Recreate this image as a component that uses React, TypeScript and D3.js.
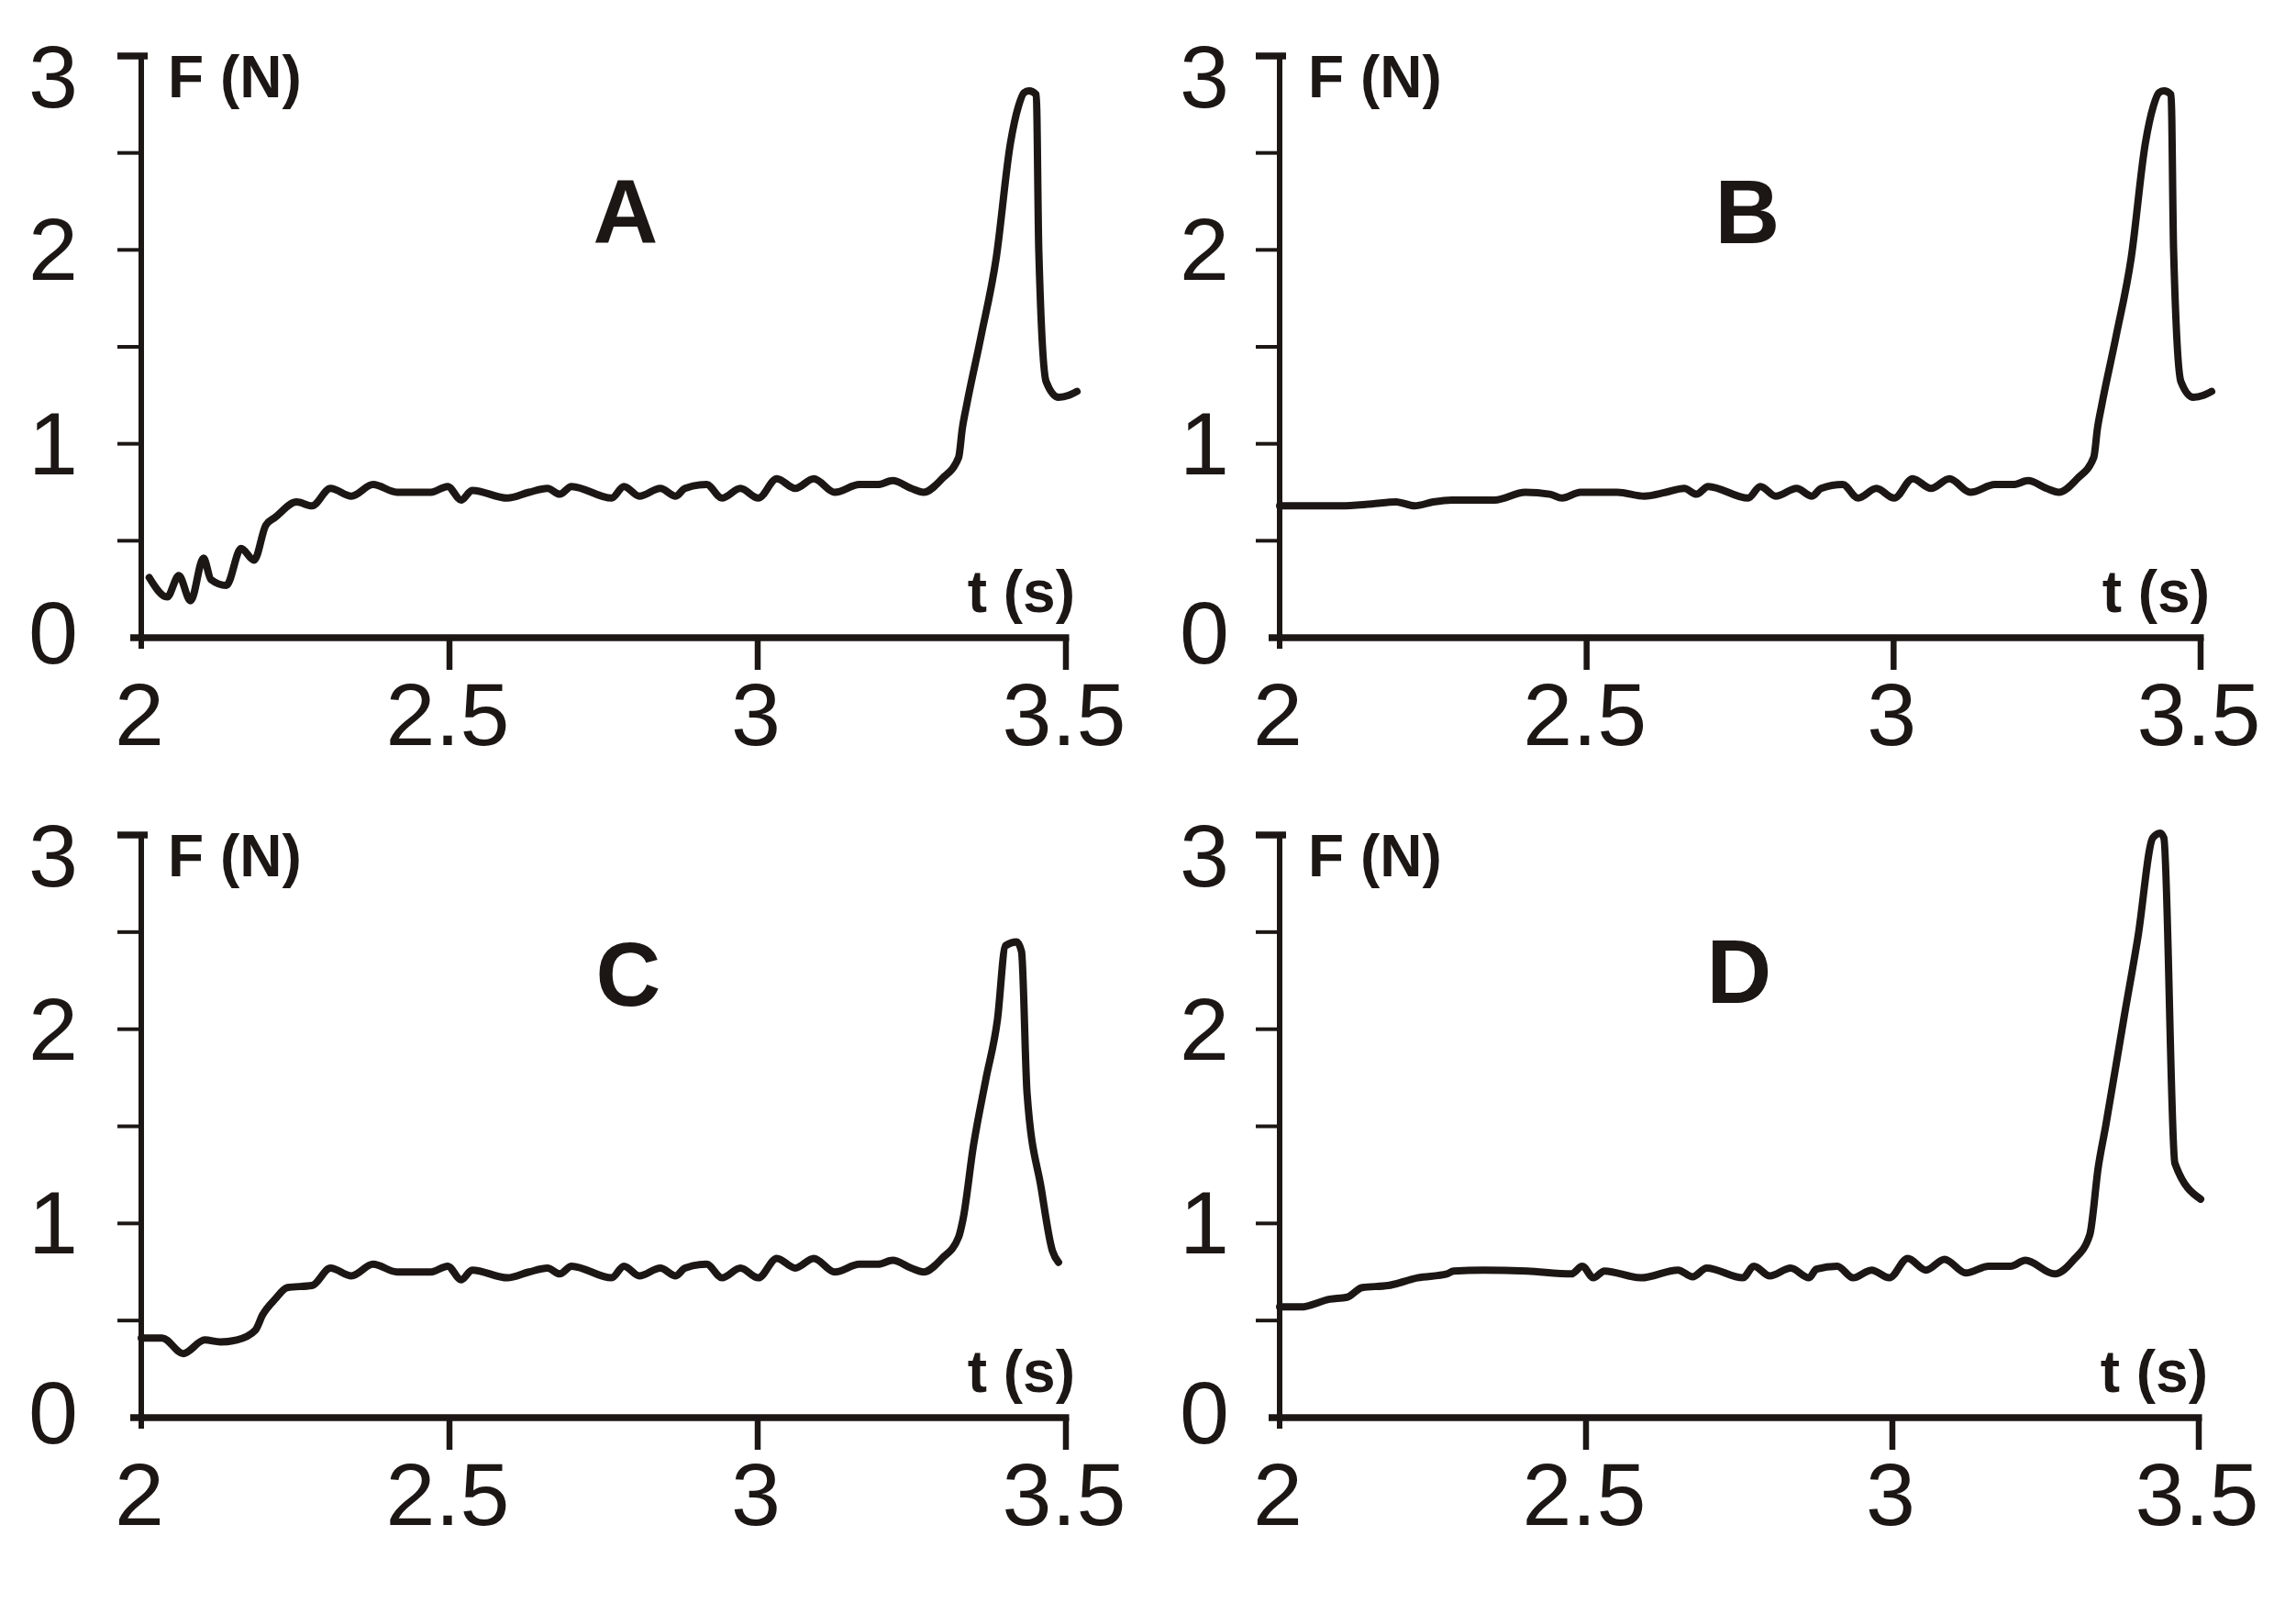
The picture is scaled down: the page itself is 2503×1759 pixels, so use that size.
import * as d3 from "d3";

// force traces, t in seconds, F in newtons
const startA: [number, number][] = [
  [2.013, 0.31], [2.042, 0.21], [2.061, 0.32], [2.08, 0.19], [2.101, 0.41],
  [2.113, 0.3], [2.138, 0.27], [2.162, 0.46], [2.183, 0.4], [2.202, 0.58],
  [2.217, 0.62], [2.252, 0.7], [2.277, 0.68],
];

const startB: [number, number][] = [
  [2.0, 0.68], [2.05, 0.68], [2.1, 0.68], [2.15, 0.69], [2.19, 0.7],
  [2.22, 0.68], [2.25, 0.7], [2.28, 0.71], [2.35, 0.71], [2.4, 0.75],
  [2.44, 0.74], [2.46, 0.72], [2.49, 0.75], [2.55, 0.75], [2.594, 0.73],
];

const startC: [number, number][] = [
  [2.0, 0.41], [2.034, 0.41], [2.068, 0.33], [2.103, 0.4], [2.128, 0.39],
  [2.155, 0.4], [2.185, 0.45], [2.197, 0.53], [2.217, 0.61], [2.237, 0.67],
  [2.277, 0.68],
];

const earlyPlateau: [number, number][] = [
  [2.307, 0.77], [2.341, 0.73], [2.376, 0.79], [2.415, 0.75], [2.47, 0.75],
  [2.497, 0.78], [2.519, 0.71], [2.537, 0.76], [2.594, 0.72],
];

const plateau: [number, number][] = [
  [2.629, 0.75], [2.659, 0.77], [2.679, 0.74], [2.698, 0.78], [2.763, 0.72],
  [2.783, 0.78], [2.808, 0.73], [2.842, 0.77], [2.867, 0.73], [2.882, 0.77],
  [2.917, 0.79], [2.942, 0.72], [2.972, 0.77], [3.001, 0.72], [3.031, 0.82],
  [3.061, 0.77], [3.091, 0.82], [3.125, 0.75], [3.165, 0.79], [3.195, 0.79],
  [3.219, 0.81], [3.249, 0.77], [3.269, 0.75], [3.299, 0.82], [3.326, 0.93],
];

const peakAB: [number, number][] = [
  [3.332, 1.08], [3.339, 1.2], [3.362, 1.55], [3.387, 1.96], [3.41, 2.55],
  [3.423, 2.74], [3.432, 2.81], [3.44, 2.82], [3.452, 2.8], [3.456, 2.0],
  [3.468, 1.32], [3.488, 1.24], [3.505, 1.25], [3.518, 1.27],
];

const peakC: [number, number][] = [
  [3.333, 1.02], [3.35, 1.4], [3.37, 1.74], [3.389, 2.05], [3.402, 2.43],
  [3.42, 2.45], [3.428, 2.4], [3.437, 1.67], [3.46, 1.18], [3.478, 0.86],
  [3.488, 0.8],
];

const seriesD: [number, number][] = [
  [2.0, 0.57], [2.034, 0.57], [2.082, 0.61], [2.11, 0.62], [2.135, 0.67],
  [2.177, 0.68], [2.225, 0.72], [2.273, 0.74], [2.284, 0.755], [2.332, 0.76],
  [2.404, 0.755], [2.476, 0.74], [2.494, 0.78], [2.512, 0.72], [2.53, 0.755],
  [2.59, 0.72], [2.65, 0.76], [2.674, 0.725], [2.697, 0.77], [2.756, 0.72],
  [2.774, 0.78], [2.8, 0.73], [2.834, 0.77], [2.864, 0.72], [2.876, 0.765],
  [2.91, 0.78], [2.936, 0.72], [2.966, 0.76], [2.995, 0.72], [3.025, 0.82],
  [3.055, 0.76], [3.085, 0.815], [3.12, 0.745], [3.157, 0.78], [3.193, 0.78],
  [3.217, 0.81], [3.265, 0.74], [3.295, 0.81], [3.322, 0.94], [3.336, 1.29],
  [3.348, 1.5], [3.378, 2.06], [3.401, 2.48], [3.425, 2.985], [3.437, 3.01],
  [3.443, 2.985], [3.461, 1.31], [3.503, 1.125],
];

const seriesA = [...startA, ...earlyPlateau, ...plateau, ...peakAB];
const seriesB = [...startB, ...plateau, ...peakAB];
const seriesC = [...startC, ...earlyPlateau, ...plateau, ...peakC];

const xTicks = [2, 2.5, 3, 3.5];
const yTicks = [0, 0.5, 1, 1.5, 2, 2.5, 3];
const yLabels = [0, 1, 2, 3];

const ink = "#1c1714";
const font = "'Liberation Sans', Arial, Helvetica, sans-serif";

const panels = [
  { name: "A", left: 154, right: 1162, base: 695, top: 61, gap: 69, fDx: 29, letterDx: 528, letterUp: 431, data: seriesA },
  { name: "B", left: 1395, right: 2399, base: 695, top: 61, gap: 55, fDx: 31, letterDx: 510, letterUp: 430, data: seriesB },
  { name: "C", left: 154, right: 1162, base: 1545, top: 910, gap: 69, fDx: 29, letterDx: 531, letterUp: 449, data: seriesC },
  { name: "D", left: 1395, right: 2397, base: 1545, top: 910, gap: 55, fDx: 31, letterDx: 501, letterUp: 452, data: seriesD },
];

type PanelCfg = (typeof panels)[number];

const Panel = ({ p }: { p: PanelCfg }) => {
  const x = d3.scaleLinear().domain([2, 3.5]).range([p.left, p.right]);
  const y = d3.scaleLinear().domain([0, 3]).range([p.base, p.top]);
  const line = d3
    .line<[number, number]>()
    .x((d) => x(d[0]))
    .y((d) => y(d[1]))
    .curve(d3.curveMonotoneX);

  return (
    <g>
      {/* y axis */}
      <line x1={x(2)} x2={x(2)} y1={y(3)} y2={y(0) + 12} stroke={ink} strokeWidth={6} />
      {yTicks.slice(1, -1).map((v) => (
        <line key={v} x1={x(2) - 26} x2={x(2)} y1={y(v)} y2={y(v)} stroke={ink} strokeWidth={4} />
      ))}
      <line x1={x(2) - 26} x2={x(2) + 7} y1={y(3)} y2={y(3)} stroke={ink} strokeWidth={7.5} />
      {yLabels.map((v) => (
        <text
          key={v}
          x={x(2) - p.gap}
          y={Math.min(Math.max(y(v) + 33, y(3) + 56), y(0) + 28)}
          textAnchor="end"
          fontFamily={font}
          fontSize={97}
          fill={ink}
        >
          {v}
        </text>
      ))}

      {/* x axis */}
      <line x1={x(2) - 12} x2={x(3.5) + 3.5} y1={y(0)} y2={y(0)} stroke={ink} strokeWidth={7.5} />
      {xTicks.slice(1).map((v) => (
        <line key={v} x1={x(v)} x2={x(v)} y1={y(0)} y2={y(0) + 35} stroke={ink} strokeWidth={6.5} />
      ))}
      {xTicks.map((v) => (
        <text
          key={v}
          x={x(v) - 2}
          y={y(0) + 117}
          textAnchor="middle"
          fontFamily={font}
          fontSize={97}
          fill={ink}
        >
          {v}
        </text>
      ))}

      {/* axis titles */}
      <text x={x(2) + p.fDx} y={y(3) + 45} fontFamily={font} fontWeight="bold" fontSize={64} fill={ink}>
        F (N)
      </text>
      <text
        x={x(3.5) + 10}
        y={y(0) - 28}
        textAnchor="end"
        fontFamily={font}
        fontWeight="bold"
        fontSize={64}
        fill={ink}
      >
        t (s)
      </text>

      {/* panel letter */}
      <text
        x={x(2) + p.letterDx}
        y={y(0) - p.letterUp}
        textAnchor="middle"
        fontFamily={font}
        fontWeight="bold"
        fontSize={98}
        fill={ink}
      >
        {p.name}
      </text>

      <path
        d={line(p.data) ?? ""}
        fill="none"
        stroke={ink}
        strokeWidth={8}
        strokeLinejoin="round"
        strokeLinecap="round"
      />
    </g>
  );
};

export default function App() {
  return (
    <svg
      width={2503}
      height={1759}
      style={{ position: "absolute", left: 0, top: 0, background: "#fff" }}
    >
      <rect width={2503} height={1759} fill="#fff" />
      {panels.map((p) => (
        <Panel key={p.name} p={p} />
      ))}
    </svg>
  );
}
